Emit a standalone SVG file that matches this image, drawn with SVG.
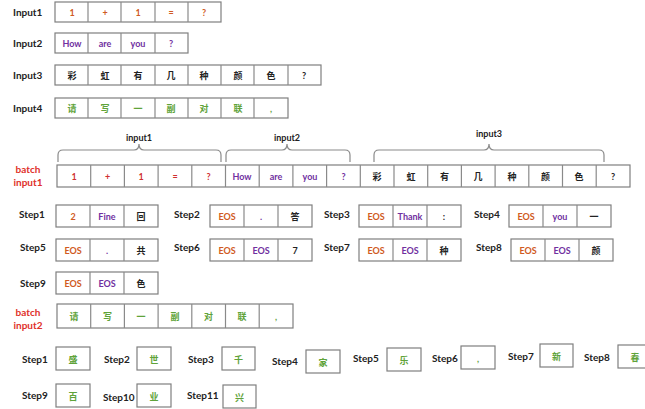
<svg xmlns="http://www.w3.org/2000/svg" width="645" height="409" viewBox="0 0 645 409">
<style>
.c{fill:#fff;stroke:#7f7f7f;stroke-width:1.2}
text{font-family:Lato,"Noto Sans CJK SC",sans-serif;font-weight:bold;font-size:9px;text-anchor:middle;dominant-baseline:central}
.l{fill:#222;font-size:10px;text-anchor:start}
.r{fill:#e0302a;font-size:10px}
.o{fill:#d05a22}.p{fill:#7030a0}.g{fill:#5fa33a}.k{fill:#222}.d{fill:#d03030}
.b{fill:none;stroke:#8a8a8a;stroke-width:1.2}
</style>
<g id="input1"><text class="l" x="13" y="12">Input1</text>
<rect class="c" x="55" y="2" width="166" height="20"/><path class="b" d="M88 2V22M121 2V22M155 2V22M188 2V22"/>
<text class="o" x="72" y="12">1</text><text class="o" x="105" y="12">+</text><text class="o" x="138" y="12">1</text><text class="o" x="171" y="12">=</text><text class="o" x="204" y="12">?</text></g>
<g id="input2"><text class="l" x="13" y="43">Input2</text>
<rect class="c" x="55" y="33" width="133" height="20"/><path class="b" d="M88 33V53M121 33V53M155 33V53"/>
<text class="p" x="72" y="43">How</text><text class="p" x="105" y="43">are</text><text class="p" x="138" y="43">you</text><text class="p" x="171" y="43">?</text></g>
<g id="input3"><text class="l" x="13" y="75">Input3</text>
<rect class="c" x="55" y="65" width="266" height="20"/><path class="b" d="M88 65V85M121 65V85M155 65V85M188 65V85M221 65V85M254 65V85M288 65V85"/>
<text class="k" x="72" y="75">彩</text><text class="k" x="105" y="75">虹</text><text class="k" x="138" y="75">有</text><text class="k" x="171" y="75">几</text><text class="k" x="204" y="75">种</text><text class="k" x="238" y="75">颜</text><text class="k" x="271" y="75">色</text><text class="k" x="304" y="75">?</text></g>
<g id="input4"><text class="l" x="13" y="108">Input4</text>
<rect class="c" x="55" y="98" width="233" height="20"/><path class="b" d="M88 98V118M121 98V118M155 98V118M188 98V118M221 98V118M254 98V118"/>
<text class="g" x="72" y="108">请</text><text class="g" x="105" y="108">写</text><text class="g" x="138" y="108">一</text><text class="g" x="171" y="108">副</text><text class="g" x="204" y="108">对</text><text class="g" x="238" y="108">联</text><text class="g" x="271" y="108">,</text></g>
<g id="brackets">
<path class="b" d="M58 162V155Q58 150 63 150H134Q139 150 139 144Q139 150 144 150H216Q221 150 221 155V162"/>
<path class="b" d="M226 162V155Q226 150 231 150H282Q287 150 287 144Q287 150 292 150H345Q350 150 350 155V162"/>
<path class="b" d="M374 162V155Q374 150 379 150H484Q489 150 489 144Q489 150 494 150H599Q604 150 604 155V162"/>
<text class="k" x="139" y="137">input1</text><text class="k" x="287" y="137">input2</text><text class="k" x="489" y="133">input3</text></g>
<g id="batch1"><text class="r" x="28" y="169">batch</text><text class="r" x="28" y="182">input1</text>
<rect class="c" x="57" y="165" width="573" height="22"/>
<path class="b" d="M90.7 165V187M124.4 165V187M158.1 165V187M191.8 165V187M225.5 165V187M259.2 165V187M292.9 165V187M326.6 165V187M360.3 165V187M394 165V187M427.7 165V187M461.4 165V187M495.1 165V187M528.8 165V187M562.5 165V187M596.2 165V187"/>
<text class="d" x="74" y="176">1</text><text class="d" x="107.5" y="176">+</text><text class="d" x="141" y="176">1</text><text class="d" x="175" y="176">=</text><text class="d" x="208.5" y="176">?</text>
<text class="p" x="242" y="176">How</text><text class="p" x="276" y="176">are</text><text class="p" x="310" y="176">you</text><text class="p" x="343.5" y="176">?</text>
<text class="k" x="377" y="176">彩</text><text class="k" x="411" y="176">虹</text><text class="k" x="444.5" y="176">有</text><text class="k" x="478" y="176">几</text><text class="k" x="512" y="176">种</text><text class="k" x="545.5" y="176">颜</text><text class="k" x="579" y="176">色</text><text class="k" x="613" y="176">?</text></g>
<g id="steps1">
<rect class="c" x="56" y="205" width="102" height="22"/><path class="b" d="M90 205V227M124 205V227"/>
<rect class="c" x="210" y="205" width="102" height="22"/><path class="b" d="M244 205V227M278 205V227"/>
<rect class="c" x="359" y="205" width="102" height="22"/><path class="b" d="M393 205V227M427 205V227"/>
<rect class="c" x="509" y="205" width="102" height="22"/><path class="b" d="M543 205V227M577 205V227"/>
<rect class="c" x="56" y="239" width="102" height="22"/><path class="b" d="M90 239V261M124 239V261"/>
<rect class="c" x="210" y="239" width="102" height="22"/><path class="b" d="M244 239V261M278 239V261"/>
<rect class="c" x="359" y="239" width="102" height="22"/><path class="b" d="M393 239V261M427 239V261"/>
<rect class="c" x="511" y="239" width="102" height="22"/><path class="b" d="M545 239V261M579 239V261"/>
<rect class="c" x="56" y="272" width="102" height="22"/><path class="b" d="M90 272V294M124 272V294"/>
<text class="l" x="19" y="214">Step1</text><text class="l" x="174" y="214">Step2</text><text class="l" x="324" y="214">Step3</text><text class="l" x="474" y="214">Step4</text>
<text class="l" x="20" y="247">Step5</text><text class="l" x="174" y="247">Step6</text><text class="l" x="324" y="247">Step7</text><text class="l" x="476" y="247">Step8</text>
<text class="l" x="20" y="283">Step9</text>
<text class="o" x="73" y="216">2</text><text class="p" x="107" y="216">Fine</text><text class="k" x="141" y="216">回</text>
<text class="o" x="227" y="216">EOS</text><text class="p" x="261" y="216">.</text><text class="k" x="295" y="216">答</text>
<text class="o" x="376" y="216">EOS</text><text class="p" x="410" y="216">Thank</text><text class="k" x="444" y="216">:</text>
<text class="o" x="526" y="216">EOS</text><text class="p" x="560" y="216">you</text><text class="k" x="594" y="216">一</text>
<text class="o" x="73" y="250">EOS</text><text class="p" x="107" y="250">.</text><text class="k" x="141" y="250">共</text>
<text class="o" x="227" y="250">EOS</text><text class="p" x="261" y="250">EOS</text><text class="k" x="295" y="250">7</text>
<text class="o" x="376" y="250">EOS</text><text class="p" x="410" y="250">EOS</text><text class="k" x="444" y="250">种</text>
<text class="o" x="528" y="250">EOS</text><text class="p" x="562" y="250">EOS</text><text class="k" x="596" y="250">颜</text>
<text class="o" x="73" y="283">EOS</text><text class="p" x="107" y="283">EOS</text><text class="k" x="141" y="283">色</text></g>
<g id="batch2"><text class="r" x="28" y="312">batch</text><text class="r" x="28" y="325">input2</text>
<rect class="c" x="57" y="304" width="236" height="24"/><path class="b" d="M90.7 304V328M124.4 304V328M158.1 304V328M191.8 304V328M225.5 304V328M259.2 304V328"/>
<text class="g" x="74" y="316">请</text><text class="g" x="107.5" y="316">写</text><text class="g" x="141" y="316">一</text><text class="g" x="175" y="316">副</text><text class="g" x="208.5" y="316">对</text><text class="g" x="242" y="316">联</text><text class="g" x="276" y="316">,</text></g>
<g id="steps2">
<rect class="c" x="56" y="347" width="34" height="23"/><rect class="c" x="137" y="347" width="34" height="23"/><rect class="c" x="222" y="347" width="33" height="23"/><rect class="c" x="306" y="350" width="34" height="23"/><rect class="c" x="387" y="348" width="34" height="23"/><rect class="c" x="461" y="346" width="34" height="23"/><rect class="c" x="540" y="344" width="33" height="23"/><rect class="c" x="618" y="345" width="34" height="23"/>
<rect class="c" x="56" y="384" width="34" height="23"/><rect class="c" x="137" y="384" width="34" height="23"/><rect class="c" x="223" y="385" width="33" height="23"/>
<text class="l" x="22" y="359">Step1</text><text class="l" x="104" y="359">Step2</text><text class="l" x="188" y="359">Step3</text><text class="l" x="272" y="361">Step4</text><text class="l" x="353" y="358">Step5</text><text class="l" x="432" y="358">Step6</text><text class="l" x="508" y="356">Step7</text><text class="l" x="584" y="357">Step8</text>
<text class="l" x="22" y="395">Step9</text><text class="l" x="103" y="397">Step10</text><text class="l" x="187" y="395">Step11</text>
<text class="g" x="73" y="359">盛</text><text class="g" x="154" y="359">世</text><text class="g" x="238.5" y="359">千</text><text class="g" x="323" y="362">家</text><text class="g" x="404" y="360">乐</text><text class="g" x="478" y="358">,</text><text class="g" x="556.5" y="356">新</text><text class="g" x="635" y="357">春</text>
<text class="g" x="73" y="396">百</text><text class="g" x="154" y="396">业</text><text class="g" x="239.5" y="397">兴</text></g>
</svg>
